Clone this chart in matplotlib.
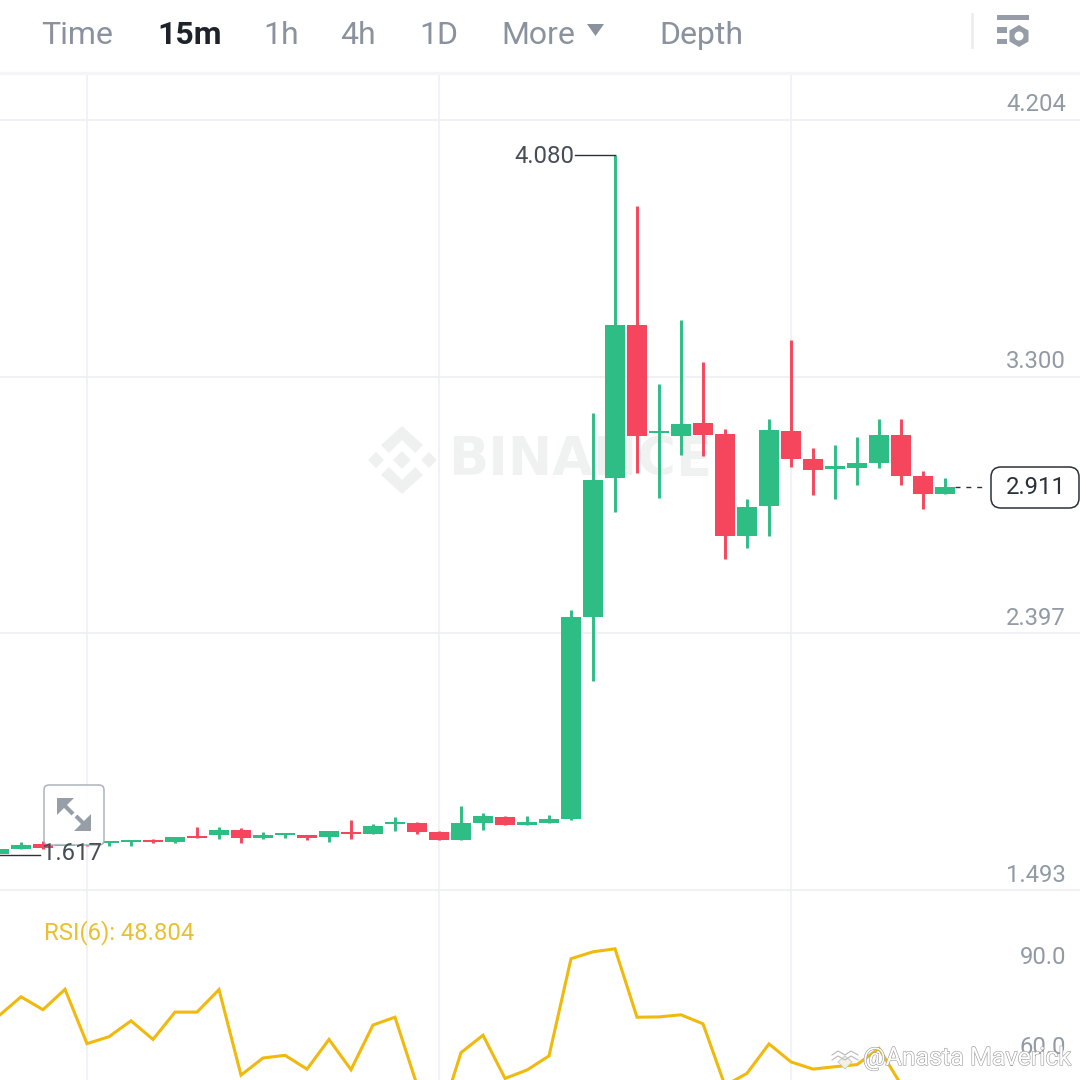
import matplotlib
matplotlib.use('Agg')
import matplotlib.pyplot as plt
from matplotlib.patches import FancyBboxPatch, Polygon, Circle, RegularPolygon
import matplotlib.patheffects as pe

plt.rcParams['font.family'] = ['Roboto', 'DejaVu Sans']

# 15m candles, oldest first
opens = [1.620, 1.637, 1.655, 1.648, 1.658, 1.658, 1.662, 1.669, 1.662, 1.683, 1.686, 1.704, 1.676, 1.686, 1.686,
         1.679, 1.697, 1.690, 1.725, 1.729, 1.697, 1.669, 1.729, 1.750, 1.722, 1.729, 1.743, 2.454, 2.943, 3.482,
         3.102, 3.091, 3.137, 3.098, 2.739, 2.845, 3.109, 3.010, 2.975, 2.979, 2.996, 3.095, 2.951, 2.887]
closes = [1.637, 1.651, 1.641, 1.658, 1.651, 1.665, 1.669, 1.662, 1.679, 1.676, 1.704, 1.676, 1.686, 1.694, 1.676,
          1.701, 1.690, 1.718, 1.732, 1.697, 1.669, 1.729, 1.753, 1.722, 1.732, 1.743, 2.454, 2.936, 3.482, 3.091,
          3.109, 3.134, 3.095, 2.739, 2.841, 3.112, 3.010, 2.972, 2.986, 2.996, 3.095, 2.951, 2.887, 2.911]
highs = [1.640, 1.662, 1.665, 1.660, 1.660, 1.665, 1.669, 1.672, 1.679, 1.715, 1.715, 1.711, 1.697, 1.694, 1.686,
         1.701, 1.739, 1.725, 1.750, 1.732, 1.701, 1.789, 1.764, 1.753, 1.753, 1.757, 2.479, 3.172, 4.080, 3.901,
         3.274, 3.500, 3.352, 3.116, 2.870, 3.151, 3.429, 3.049, 3.060, 3.088, 3.151, 3.151, 2.968, 2.943]
lows = [1.617, 1.637, 1.637, 1.648, 1.648, 1.648, 1.648, 1.658, 1.658, 1.676, 1.672, 1.658, 1.672, 1.676, 1.669,
        1.662, 1.672, 1.690, 1.701, 1.690, 1.669, 1.669, 1.704, 1.722, 1.722, 1.729, 1.739, 2.229, 2.824, 2.961,
        2.873, 3.024, 3.021, 2.658, 2.697, 2.739, 2.982, 2.884, 2.870, 2.919, 2.979, 2.919, 2.834, 2.887]
rsi = [75.1, 81.4, 77.1, 83.9, 65.8, 68.1, 73.4, 67.2, 76.3, 76.3, 83.8, 55.3, 61.0, 61.9, 57.3,
       67.2, 57.1, 72.0, 74.6, 52.0, 39.7, 62.8, 68.6, 54.2, 57.0, 61.7, 94.1, 96.4, 97.4, 74.6,
       74.7, 75.4, 72.4, 51.8, 55.9, 65.7, 59.7, 57.3, 58.1, 58.8, 64.2, 52.2, 47.5, 48.804]

price_ticks = [4.204, 3.300, 2.397, 1.493]
rsi_ticks = [90.0, 60.0]
time_grid = [4, 20, 36]  # candles that sit on a vertical grid line
last_price = 2.911
high_label = 4.080
low_label = 1.617
rsi_label = 'RSI(6): 48.804'
tabs = ['Time', '15m', '1h', '4h', '1D', 'More', 'Depth']
tab_x = [41, 157, 263, 340, 419, 501, 659]

GREEN = '#2ebd85'
RED = '#f6465d'
GRID = '#eff0f3'
GREY_TEXT = '#929aa5'
DARK = '#2b3139'
YELLOW = '#f0b90b'
NUM_SIZE = 17.2
W = 1080
PX = 72 / 100  # one pixel in points

fig = plt.figure(figsize=(10.8, 10.8), dpi=100, facecolor='white')


def pixel_axes(zorder):
    a = fig.add_axes([0, 0, 1, 1], zorder=zorder)
    a.set_xlim(0, W)
    a.set_ylim(W, 0)
    a.axis('off')
    return a


back = pixel_axes(0)
ax = fig.add_axes([0, 190 / W, 1, 815 / W], zorder=1)
ax_rsi = fig.add_axes([0, 0, 1, 190 / W], zorder=1)
top = pixel_axes(3)

# index runs at 22 px per candle, first candle sits at x = -1
xlim = (1 / 22, 1081 / 22)
for a in (ax, ax_rsi):
    a.set_xlim(*xlim)
    a.patch.set_alpha(0)
    for s in a.spines.values():
        s.set_visible(False)
    a.set_xticks([])
    a.set_yticks([])
ax.set_ylim(1.493, 4.362)
ax_rsi.set_ylim(53.67, 117)

# grid
for p in price_ticks:
    ax.axhline(p, color=GRID, lw=1.3, zorder=1, clip_on=False)
for a in (ax, ax_rsi):
    for g in time_grid:
        a.axvline(g, color='#eeeff6', lw=1.1, zorder=1)

# watermark, under the candles
back.text(580, 460, 'BINANCE', family='DejaVu Sans', weight='bold', fontsize=38, color='#f0f1f1',
          ha='center', va='center')
wm = '#eff0f0'
back.add_patch(Polygon([(402, 451), (411, 460), (402, 469), (393, 460)], color=wm, lw=0))
back.add_patch(Polygon([(376, 452), (384, 460), (376, 468), (368, 460)], color=wm, lw=0))
back.add_patch(Polygon([(429, 452), (437, 460), (429, 468), (421, 460)], color=wm, lw=0))
back.add_patch(Polygon([(402, 426), (423, 445), (415, 453), (402, 440), (389, 453), (381, 445)], color=wm, lw=0))
back.add_patch(Polygon([(402, 494), (423, 475), (415, 467), (402, 480), (389, 467), (381, 475)], color=wm, lw=0))

# candles
for i in range(len(opens)):
    c = GREEN if closes[i] >= opens[i] else RED
    ax.vlines(i, lows[i], highs[i], color=c, lw=2.1, zorder=3, capstyle='butt')
    ax.bar(i, abs(closes[i] - opens[i]), bottom=min(opens[i], closes[i]), width=0.88, color=c, lw=0, zorder=3)

# high and low markers
i_hi = highs.index(max(highs))
i_lo = lows.index(min(lows))
ax.plot([i_hi - 40 / 22, i_hi], [high_label, high_label], color=DARK, lw=1.0, zorder=4)
ax.annotate(f'{high_label:.3f}', (i_hi, high_label), xytext=(-41 * PX, -1 * PX), textcoords='offset points',
            ha='right', va='center', fontsize=NUM_SIZE, color='#474d57', zorder=4)
ax.plot([i_lo, i_lo + 41 / 22], [low_label, low_label], color=DARK, lw=1.0, zorder=4)
top.annotate(f'{low_label:.3f}', (42, 854), ha='left', va='center', fontsize=NUM_SIZE, color='#474d57',
             annotation_clip=False)

# price axis labels sit just above their grid line
for p in price_ticks:
    ax.annotate(f'{p:.3f}', (1, p), xycoords=('axes fraction', 'data'), xytext=(-14 * PX, 15 * PX),
                textcoords='offset points', ha='right', va='center', fontsize=NUM_SIZE, color=GREY_TEXT)

# last price
n = len(closes) - 1
ax.plot([n + 10 / 22, n + 40 / 22], [last_price, last_price], color=DARK, lw=1.0, dashes=(3.6, 4.2), zorder=4)
top.add_patch(FancyBboxPatch((991, 467), 88, 41, boxstyle='round,pad=0,rounding_size=10', fc='white', ec=DARK, lw=1.1))
top.text(1036, 488, f'{last_price:.3f}', ha='center', va='center', fontsize=NUM_SIZE, color=DARK)

# RSI
ax_rsi.plot(range(len(rsi)), rsi, color=YELLOW, lw=2.2, solid_joinstyle='miter', zorder=3)
for r in rsi_ticks:
    ax_rsi.annotate(f'{r:.1f}', (1, r), xycoords=('axes fraction', 'data'), xytext=(-14 * PX, 14 * PX),
                    textcoords='offset points', ha='right', va='center', fontsize=NUM_SIZE, color=GREY_TEXT)
top.text(44, 933, rsi_label, fontsize=NUM_SIZE, color='#eac02f', va='center', ha='left')

# toolbar
top.plot([0, W], [73, 73], color='#f5f5f8', lw=2.4)
for t, x in zip(tabs, tab_x):
    active = t == '15m'
    top.text(x, 44, t, fontsize=23, weight='bold' if active else 'normal',
             color='#1e2329' if active else '#8a929e', ha='left', va='baseline')
top.add_patch(Polygon([(587, 24), (604, 24), (595.5, 36)], color='#8a929e', lw=0, joinstyle='round'))
top.plot([972, 972], [14, 47], color='#edeef0', lw=2)

icon = '#969da8'
top.add_patch(Polygon([(997, 15), (1029, 15), (1029, 20), (997, 20)], color=icon, lw=0))
top.add_patch(Polygon([(997, 27), (1007, 27), (1007, 33), (997, 33)], color=icon, lw=0))
top.add_patch(Polygon([(997, 39), (1007, 39), (1007, 44), (997, 44)], color=icon, lw=0))
top.add_patch(RegularPolygon((1019, 36), 6, radius=11, color=icon, lw=0))
top.add_patch(Circle((1019, 36), 4.5, color='white', lw=0))

# expand button
top.add_patch(FancyBboxPatch((44, 785), 60, 60, boxstyle='round,pad=0,rounding_size=5', fc='white', ec='#a9aeb8', lw=1.1,
                             alpha=0.95))
arrow = '#989ea8'
top.add_patch(Polygon([(57, 798), (74, 798), (57, 815)], color=arrow, lw=0))
top.add_patch(Polygon([(91, 831), (74, 831), (91, 814)], color=arrow, lw=0))
top.plot([63, 73], [804, 814], color=arrow, lw=3, solid_capstyle='butt')
top.plot([85, 76], [825, 816], color=arrow, lw=3, solid_capstyle='butt')

# uploader tag in the corner
tag = top.text(863, 1058, '@Anasta Maverick', fontsize=18, color='white', va='center', ha='left')
tag.set_path_effects([pe.withStroke(linewidth=0.9, foreground='#a0a0a0')])
for y0 in (1051, 1056):
    top.plot([832, 838, 845, 851, 858], [y0 + 4, y0, y0 + 4, y0, y0 + 4], color='#b8b8b8', lw=0.8)
top.add_patch(Polygon([(838, 1062), (845, 1056), (852, 1062), (845, 1069)], fc='#f4f0e4', ec='#c4c4c4', lw=0.6))

fig.savefig('out.png', dpi=100)
